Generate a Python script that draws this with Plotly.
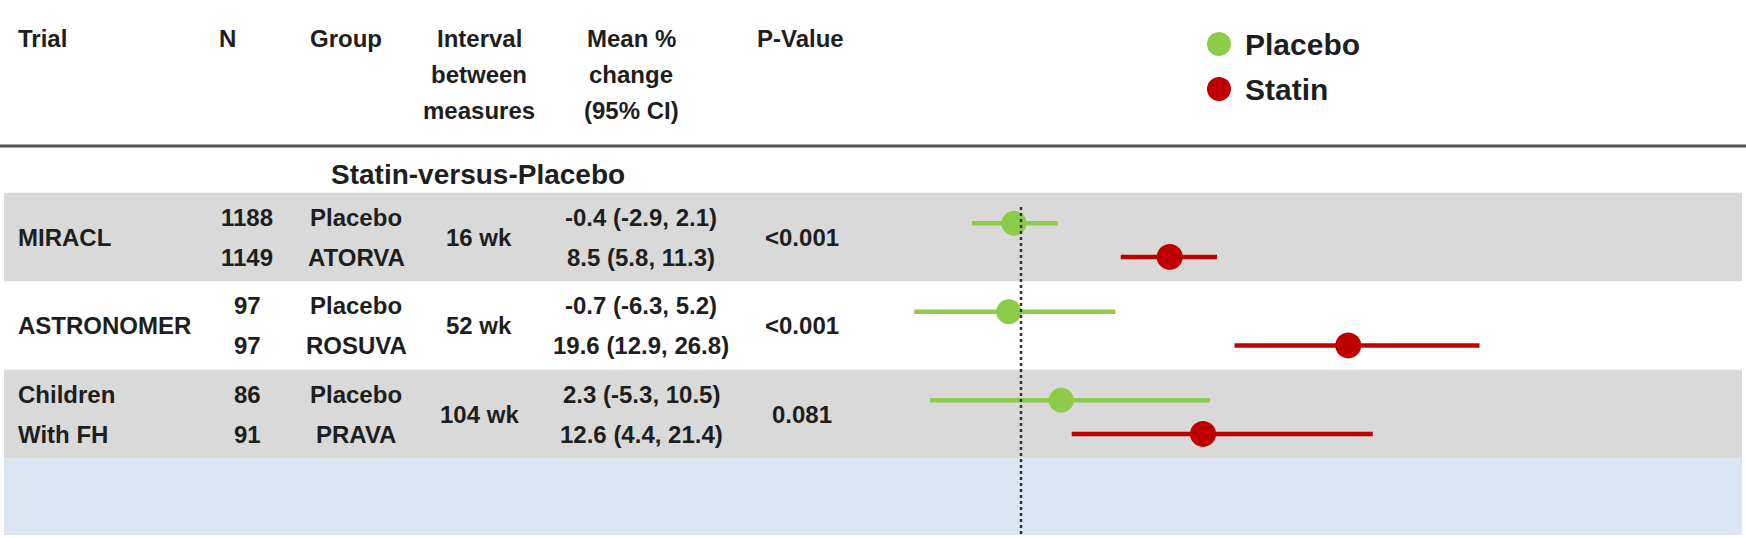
import plotly.graph_objects as go

# ---------------- data ----------------
trials = ["MIRACL", "ASTRONOMER", "Children\nWith FH"]
n_placebo = [1188, 97, 86]
n_statin = [1149, 97, 91]
statin_names = ["ATORVA", "ROSUVA", "PRAVA"]
intervals = ["16 wk", "52 wk", "104 wk"]
p_values = ["<0.001", "<0.001", "0.081"]

# values printed in the "Mean % change (95% CI)" column
placebo_ci_text = ["-0.4 (-2.9, 2.1)", "-0.7 (-6.3, 5.2)", "2.3 (-5.3, 10.5)"]
statin_ci_text = ["8.5 (5.8, 11.3)", "19.6 (12.9, 26.8)", "12.6 (4.4, 21.4)"]

# positions of the drawn markers / whiskers
placebo_mean = [-0.4, -0.7, 2.3]
placebo_lo = [-2.8, -6.1, -5.2]
placebo_hi = [2.1, 5.4, 10.8]

statin_mean = [8.5, 18.7, 10.4]
statin_lo = [5.7, 12.2, 2.9]
statin_hi = [11.2, 26.2, 20.1]

header_cols = ["Trial", "N", "Group", "Interval\nbetween\nmeasures", "Mean %\nchange\n(95% CI)", "P-Value"]
section_title = "Statin-versus-Placebo"
series_names = ["Placebo", "Statin"]

# ---------------- styling ----------------
W, H = 1746, 538
GREEN = "#8DCB4B"
RED = "#C00000"
BAND_GRAY = "#D9D9D9"
BAND_BLUE = "#DCE6F2"
TXT = "#1E1E1E"
FONT = "Liberation Sans, Arial, sans-serif"
FS = 24

PX_PER_UNIT = 88.5       # vertical pixels per trial row
CENTER0 = 237.0          # pixel y of first trial centre
ZERO_PX = 1021.0         # pixel x of value 0 on forest axis
PX_PER_PCT = 17.5        # pixels per % unit

def py2u(p):
    return (p - CENTER0) / PX_PER_UNIT

def px(p):
    return p / W

def py(p):
    return 1 - p / H

PLACEBO_OFF = -0.155
STATIN_OFF = 0.225
TEXT_OFF = 0.226

fig = go.Figure()

shapes = []
for i in range(len(trials)):
    if i % 2 == 0:
        shapes.append(dict(type="rect", xref="paper", yref="y",
                           x0=px(4), x1=px(1742), y0=i - 0.5, y1=i + 0.5,
                           fillcolor=BAND_GRAY, line=dict(width=0), layer="below"))
shapes.append(dict(type="rect", xref="paper", yref="y",
                   x0=px(4), x1=px(1742), y0=len(trials) - 0.5, y1=py2u(535),
                   fillcolor=BAND_BLUE, line=dict(width=0), layer="below"))
shapes.append(dict(type="line", xref="paper", yref="paper",
                   x0=px(0), x1=1, y0=py(146), y1=py(146),
                   line=dict(color="#555555", width=3)))
shapes.append(dict(type="line", xref="x", yref="y", x0=0, x1=0,
                   y0=py2u(207), y1=py2u(537),
                   line=dict(color="#333333", width=2.5, dash="dot")))

for c, cy in [(GREEN, 44), (RED, 89)]:
    r = 12
    shapes.append(dict(type="circle", xref="paper", yref="paper",
                       x0=px(1219 - r), x1=px(1219 + r),
                       y0=py(cy + r), y1=py(cy - r),
                       fillcolor=c, line=dict(width=0)))

ys_p = [i + PLACEBO_OFF for i in range(len(trials))]
ys_s = [i + STATIN_OFF for i in range(len(trials))]
fig.add_trace(go.Scatter(
    x=placebo_mean, y=ys_p, mode="markers", name=series_names[0],
    marker=dict(color=GREEN, size=25),
    error_x=dict(type="data", symmetric=False,
                 array=[h - m for h, m in zip(placebo_hi, placebo_mean)],
                 arrayminus=[m - l for m, l in zip(placebo_mean, placebo_lo)],
                 color=GREEN, thickness=4.5, width=0),
    showlegend=False, hoverinfo="skip"))
fig.add_trace(go.Scatter(
    x=statin_mean, y=ys_s, mode="markers", name=series_names[1],
    marker=dict(color=RED, size=26),
    error_x=dict(type="data", symmetric=False,
                 array=[h - m for h, m in zip(statin_hi, statin_mean)],
                 arrayminus=[m - l for m, l in zip(statin_mean, statin_lo)],
                 color=RED, thickness=4.5, width=0),
    showlegend=False, hoverinfo="skip"))

ann = []

def add_text(text, x, y, yref="y", xanchor="center", size=FS):
    ann.append(dict(text="<b>%s</b>" % text, x=x, y=y, xref="paper", yref=yref,
                    xanchor=xanchor, yanchor="middle", showarrow=False,
                    font=dict(family=FONT, size=size, color=TXT)))

head_x = [(16, "left"), (227, "center"), (346, "center"), (479, "center"), (631, "center"), (800, "center")]
for (hx, anc), label in zip(head_x, header_cols):
    for j, line in enumerate(label.split("\n")):
        add_text(line, px(hx), py(38 + 36 * j), yref="paper", xanchor=anc)

add_text(section_title, px(478), py(174), yref="paper", size=28)

add_text(series_names[0], px(1243), py(45), yref="paper", xanchor="left", size=30)
add_text(series_names[1], px(1243), py(89), yref="paper", xanchor="left", size=30)

for i in range(len(trials)):
    lines = trials[i].split("\n")
    if len(lines) == 1:
        add_text(lines[0], px(16), i, xanchor="left")
    else:
        for j, line in enumerate(lines):
            add_text(line, px(16), i + (-TEXT_OFF if j == 0 else TEXT_OFF), xanchor="left")
    add_text(str(n_placebo[i]), px(247), i - TEXT_OFF)
    add_text(str(n_statin[i]), px(247), i + TEXT_OFF)
    add_text(series_names[0], px(356), i - TEXT_OFF)
    add_text(statin_names[i], px(356), i + TEXT_OFF)
    add_text(intervals[i], px(479), i)
    add_text(placebo_ci_text[i], px(641), i - TEXT_OFF)
    add_text(statin_ci_text[i], px(641), i + TEXT_OFF)
    add_text(p_values[i], px(802), i)

fig.update_layout(
    width=W, height=H,
    margin=dict(l=0, r=0, t=0, b=0),
    paper_bgcolor="white", plot_bgcolor="rgba(0,0,0,0)",
    shapes=shapes, annotations=ann,
    xaxis=dict(range=[-ZERO_PX / PX_PER_PCT, (W - ZERO_PX) / PX_PER_PCT],
               domain=[0, 1], visible=False, fixedrange=True),
    yaxis=dict(range=[py2u(H), py2u(0)], domain=[0, 1], visible=False, fixedrange=True),
    showlegend=False,
)

fig.write_html("out.html", config={"displayModeBar": False},
               post_script="document.body.style.margin='0';document.body.style.overflow='hidden';")
